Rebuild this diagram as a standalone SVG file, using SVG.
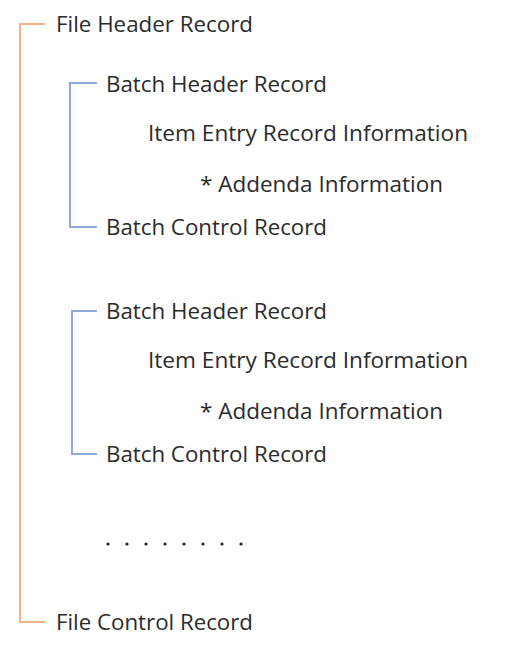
<svg xmlns="http://www.w3.org/2000/svg" width="516" height="646" viewBox="0 0 516 646">
<style>
.t{font-family:"Open Sans","Noto Sans","Liberation Sans",sans-serif;font-size:22.5px;fill:#2b2b2b}
.o{stroke:#f4b183;stroke-width:2;fill:none}
.b{stroke:#8faadc;stroke-width:2;fill:none}
.d{fill:#222}
</style>
<rect width="516" height="646" fill="#ffffff"/>
<g id="connectors">
<path class="o" d="M45,24 H20 V622 H45"/>
<path class="b" d="M97,83 H70 V227 H97"/>
<path class="b" d="M97,311 H72 V454 H97"/>
</g>
<g id="file-header"><text class="t" x="56" y="32" textLength="197" lengthAdjust="spacingAndGlyphs">File Header Record</text></g>
<g id="batch1">
<g id="batch1-header"><text class="t" x="106" y="92" textLength="221" lengthAdjust="spacingAndGlyphs">Batch Header Record</text></g>
<g id="batch1-item"><text class="t" x="148" y="141" textLength="320" lengthAdjust="spacingAndGlyphs">Item Entry Record Information</text></g>
<g id="batch1-addenda"><text class="t" x="200" y="192" textLength="243" lengthAdjust="spacingAndGlyphs">* Addenda Information</text></g>
<g id="batch1-control"><text class="t" x="106" y="235" textLength="221" lengthAdjust="spacingAndGlyphs">Batch Control Record</text></g>
</g>
<g id="batch2">
<g id="batch2-header"><text class="t" x="106" y="319" textLength="221" lengthAdjust="spacingAndGlyphs">Batch Header Record</text></g>
<g id="batch2-item"><text class="t" x="148" y="368" textLength="320" lengthAdjust="spacingAndGlyphs">Item Entry Record Information</text></g>
<g id="batch2-addenda"><text class="t" x="200" y="419" textLength="243" lengthAdjust="spacingAndGlyphs">* Addenda Information</text></g>
<g id="batch2-control"><text class="t" x="106" y="462" textLength="221" lengthAdjust="spacingAndGlyphs">Batch Control Record</text></g>
</g>
<g id="ellipsis">
<circle class="d" cx="108" cy="544" r="1.6"/>
<circle class="d" cx="127" cy="544" r="1.6"/>
<circle class="d" cx="146" cy="544" r="1.6"/>
<circle class="d" cx="165" cy="544" r="1.6"/>
<circle class="d" cx="184" cy="544" r="1.6"/>
<circle class="d" cx="203" cy="544" r="1.6"/>
<circle class="d" cx="222" cy="544" r="1.6"/>
<circle class="d" cx="241" cy="544" r="1.6"/>
</g>
<g id="file-control"><text class="t" x="56" y="630" textLength="197" lengthAdjust="spacingAndGlyphs">File Control Record</text></g>
</svg>
